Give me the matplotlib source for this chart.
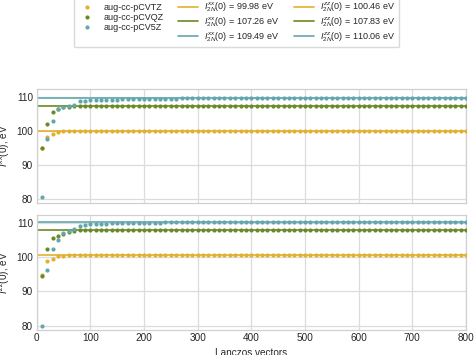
import numpy as np
import matplotlib
matplotlib.use("Agg")
import matplotlib.pyplot as plt
from matplotlib.lines import Line2D
import seaborn as sns

sns.set_style("whitegrid")
plt.rcParams["font.family"] = ["Liberation Sans", "DejaVu Sans"]
plt.rcParams["mathtext.fontset"] = "custom"
plt.rcParams["mathtext.rm"] = "Liberation Sans"
plt.rcParams["mathtext.it"] = "Liberation Sans:italic"

# Lanczos vectors (every 10th step)
lanczos = np.arange(10, 810, 10)
n_pts = len(lanczos)

basis_labels = ["aug-cc-pCVTZ", "aug-cc-pCVQZ", "aug-cc-pCV5Z"]
colors = ["#e2b031", "#6a8a26", "#62a7ad"]

# converged I(0) values, eV
conv_xx = [99.98, 107.26, 109.49]
conv_zz = [100.46, 107.83, 110.06]

vtz_xx_early = [95.0, 98.2, 98.9, 99.6, 99.8, 99.9, 99.95]
vqz_xx_early = [95.0, 102.0, 105.5, 106.3, 106.8, 107.0, 107.1, 107.2, 107.2, 107.25]
v5z_xx_early = [80.5, 97.6, 102.9, 106.4, 107.0, 107.3, 107.6, 108.7, 108.8, 108.9,
                108.95, 109.0, 109.05, 109.1, 109.1, 109.15, 109.2, 109.2, 109.25, 109.25,
                109.3, 109.3, 109.35, 109.35, 109.4, 109.4, 109.45]

vtz_zz_early = [94.8, 98.7, 99.4, 100.3, 100.4, 100.45]
vqz_zz_early = [94.5, 102.3, 105.5, 106.0, 106.6, 107.2, 107.6, 107.7, 107.75, 107.8]
v5z_zz_early = [80.1, 96.3, 102.4, 104.8, 107.1, 107.6, 108.2, 109.0, 109.3, 109.5,
                109.6, 109.65, 109.7, 109.75, 109.8, 109.8, 109.85, 109.9, 109.9, 109.95,
                109.95, 110.0, 110.0, 110.05]


def pad_series(early, plateau):
    return np.array(early + [plateau] * (n_pts - len(early)))


series_xx = [pad_series(vtz_xx_early, conv_xx[0]),
             pad_series(vqz_xx_early, conv_xx[1]),
             pad_series(v5z_xx_early, conv_xx[2])]
series_zz = [pad_series(vtz_zz_early, conv_zz[0]),
             pad_series(vqz_zz_early, conv_zz[1]),
             pad_series(v5z_zz_early, conv_zz[2])]

fig = plt.figure(figsize=(4.74, 3.55), dpi=100)
ax_top = fig.add_axes([0.0772, 0.429, 0.906, 0.320])
ax_bot = fig.add_axes([0.0772, 0.0704, 0.906, 0.324], sharex=ax_top)

for ax, series, conv, ylabel in [
    (ax_top, series_xx, conv_xx, r"$I^{xx}(0)$, eV"),
    (ax_bot, series_zz, conv_zz, r"$I^{zz}(0)$, eV"),
]:
    for vals, c in zip(series, colors):
        ax.plot(lanczos, vals, "o", color=c, markersize=3.0, markeredgewidth=0, zorder=3)
    for val, c in zip(conv, colors):
        ax.axhline(val, color=c, linewidth=1.2, zorder=2)
    ax.set_xlim(0, 800)
    ax.set_ylim(78.8, 112.2)
    ax.set_yticks([80, 90, 100, 110])
    ax.set_ylabel(ylabel, fontsize=7.2, labelpad=3)
    ax.tick_params(labelsize=7.2, length=0, pad=2.5, colors="#262626")
    ax.grid(color="#dcdcdc", linewidth=0.9)
    for sp in ax.spines.values():
        sp.set_color("#d0d0d0")
        sp.set_linewidth(0.9)

ax_top.tick_params(labelbottom=False)
ax_bot.set_xticks(np.arange(0, 900, 100))
ax_bot.set_xlabel("Lanczos vectors", fontsize=7.2, labelpad=3)

handles = [Line2D([], [], linestyle="none", marker="o", markersize=3.0,
                  markeredgewidth=0, color=c) for c in colors]
labels = list(basis_labels)
for val, c in zip(conv_xx, colors):
    handles.append(Line2D([], [], color=c, linewidth=1.2))
    labels.append(r"$I^{xx}_{2N}(0)$ = %.2f eV" % val)
for val, c in zip(conv_zz, colors):
    handles.append(Line2D([], [], color=c, linewidth=1.2))
    labels.append(r"$I^{zz}_{2N}(0)$ = %.2f eV" % val)

fig.legend(handles, labels, ncol=3, loc="lower center",
           bbox_to_anchor=(0.498, 1 - 52 / 355), fontsize=6.5,
           frameon=True, handlelength=2.2, handletextpad=0.7,
           columnspacing=1.6, labelspacing=0.15, borderpad=0.4,
           edgecolor="#d0d0d0", fancybox=True)

fig.savefig("out.png", dpi=100)
